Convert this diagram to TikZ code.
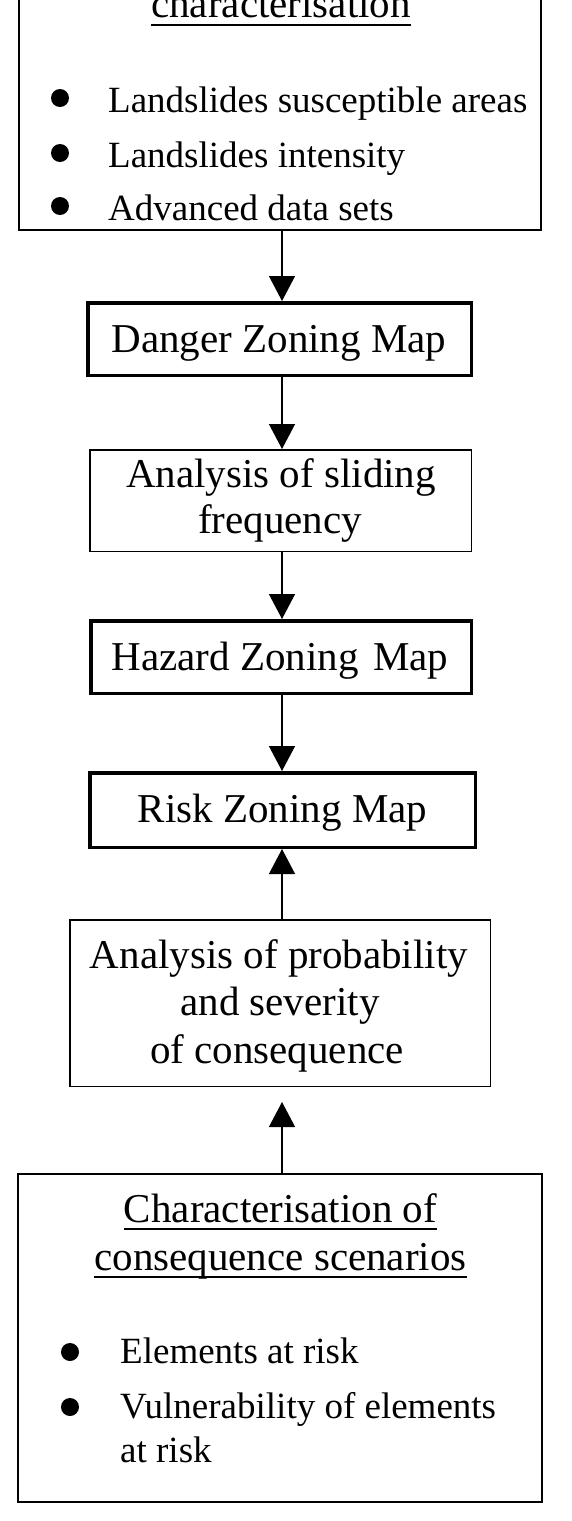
\documentclass[tikz,border=0pt]{standalone}
\usepackage{fontspec}
\setmainfont{Liberation Serif}
\usetikzlibrary{arrows.meta}
\begin{document}
\begin{tikzpicture}[x=1pt,y=-1pt,
  thinbox/.style={draw=black, line width=1.5pt, inner sep=0pt, fill=white},
  thickbox/.style={draw=black, line width=3.5pt, inner sep=0pt, fill=white},
  big/.style={inner sep=0pt, anchor=base, font=\fontsize{41}{47}\selectfont},
  small/.style={inner sep=0pt, anchor=base west, font=\fontsize{37}{44}\selectfont},
  dot/.style={circle, fill=black, inner sep=0pt, minimum size=18pt},
  arr/.style={line width=1.3pt, -{Triangle[length=25pt,width=26pt]}},
  uline/.style={line width=2pt}]
\useasboundingbox (0,0) rectangle (571,1521);
\fill[white] (0,0) rectangle (571,1521);
\clip (0,0) rectangle (571,1521);
\coordinate (ax) at (282,0);

% boxes
\node[thinbox, minimum width=522pt, minimum height=250pt] (top) at (280,105) {};
\node[thickbox, minimum width=383.5pt, minimum height=72.5pt] (danger) at (279.5,339) {};
\node[thinbox, minimum width=381.5pt, minimum height=101.5pt] (sliding) at (280.5,500.5) {};
\node[thickbox, minimum width=380.5pt, minimum height=72.5pt] (hazard) at (281,657) {};
\node[thickbox, minimum width=385.5pt, minimum height=74.5pt] (risk) at (282.5,810) {};
\node[thinbox, minimum width=420.5pt, minimum height=166.5pt] (prob) at (280,1003) {};
\node[thinbox, minimum width=524.2pt, minimum height=328.2pt] (bottom) at (280,1338) {};

% top box text
\node[big] (t0) at (281,17) {characterisation};
\draw[uline] ([yshift=-8pt]t0.base west) -- ([yshift=-8pt]t0.base east);
\node[dot] (d1) at (60,98) {};
\node[dot] (d2) at (60,153) {};
\node[dot] (d3) at (60,206) {};
\node[small] (l1) at (108,112) {Landslides susceptible areas};
\node[small] (l2) at (108,167) {Landslides intensity};
\node[small] (l3) at (108,220) {Advanced data sets};

% middle boxes text
\node[big] (tdanger) at (279,352) {Danger Zoning Map};
\node[big] (tsl1) at (281,487) {Analysis of sliding};
\node[big] (tsl2) at (280,533) {frequency};
\node[big] (thazard) at (280,670) {Hazard Zoning\hspace{4pt} Map};
\node[big] (trisk) at (282.5,822) {Risk Zoning Map};
\node[big] (tp1) at (279,968) {Analysis of probability};
\node[big] (tp2) at (280,1015) {and severity};
\node[big] (tp3) at (277,1063) {of consequence};

% bottom box text
\node[big] (tb1) at (280.5,1222) {Characterisation of};
\draw[uline] ([yshift=-7pt]tb1.base west) -- ([yshift=-7pt]tb1.base east);
\node[big] (tb2) at (280.5,1270) {consequence scenarios};
\draw[uline] ([yshift=-7pt]tb2.base west) -- ([yshift=-7pt]tb2.base east);
\node[dot] (e1) at (70,1352) {};
\node[dot] (e2) at (70,1407) {};
\node[small] (m1) at (120,1363) {Elements at risk};
\node[small] (m2) at (120,1418) {Vulnerability of elements};
\node[small] (m3) at (120,1462) {at risk};

% connectors
\draw[arr] (top.south -| ax) -- (danger.north -| ax);
\draw[arr] (danger.south -| ax) -- (sliding.north -| ax);
\draw[arr] (sliding.south -| ax) -- (hazard.north -| ax);
\draw[arr] (hazard.south -| ax) -- (risk.north -| ax);
\draw[arr] (prob.north -| ax) -- (risk.south -| ax);
\draw[arr, shorten >=15pt] (bottom.north -| ax) -- (prob.south -| ax);
\end{tikzpicture}
\end{document}
